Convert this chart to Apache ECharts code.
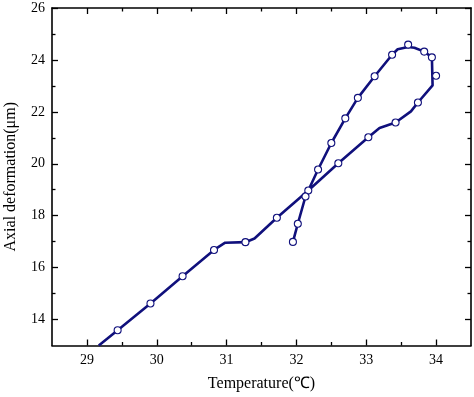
<!DOCTYPE html>
<html>
<head>
<meta charset="utf-8">
<script src="https://cdn.jsdelivr.net/npm/echarts@6/dist/echarts.min.js"></script>
<style>
  html, body { margin: 0; padding: 0; background: #fff; }
  #chart { width: 474px; height: 397px; }
</style>
</head>
<body>
<div id="chart"></div>
<script>
  // path of the curve (heating up the lower branch, back down the upper one)
  var pathT = [29.17, 29.44, 29.91, 30.37, 30.82, 30.98, 31.27, 31.40, 31.72, 32.17, 32.60, 33.03, 33.19, 33.42, 33.64, 33.74, 33.95, 33.94, 33.83, 33.69, 33.60, 33.45, 33.37, 33.12, 32.88, 32.70, 32.50, 32.31, 32.13, 32.02, 31.95];
  var pathD = [13.00, 13.59, 14.62, 15.67, 16.68, 16.96, 16.98, 17.12, 17.92, 18.97, 20.02, 21.02, 21.38, 21.59, 22.02, 22.36, 23.02, 24.10, 24.32, 24.47, 24.50, 24.41, 24.20, 23.37, 22.54, 21.75, 20.80, 19.78, 18.74, 17.69, 16.99];

  // measured points (open circles)
  var markT = [29.44, 29.91, 30.37, 30.82, 31.27, 31.72, 32.17, 32.60, 33.03, 33.42, 33.74, 34.00, 33.94, 33.83, 33.60, 33.37, 33.12, 32.88, 32.70, 32.50, 32.31, 32.13, 32.02, 31.95];
  var markD = [13.59, 14.62, 15.67, 16.68, 16.98, 17.92, 18.97, 20.02, 21.02, 21.59, 22.36, 23.39, 24.10, 24.32, 24.59, 24.20, 23.37, 22.54, 21.75, 20.80, 19.78, 18.74, 17.69, 16.99];

  var xMajor = [29, 30, 31, 32, 33, 34];
  var xMinor = [29.5, 30.5, 31.5, 32.5, 33.5];
  var yMajor = [14, 16, 18, 20, 22, 24, 26];
  var yMinor = [15, 17, 19, 21, 23, 25];

  var font = 'Liberation Serif';
  var navy = '#10107c';

  function zip(a, b) {
    return a.map(function (v, i) { return [v, b[i]]; });
  }

  function xAx(pos, ticks, len, labels, line) {
    return {
      type: 'value', position: pos, min: 28.5, max: 34.5,
      splitLine: { show: false },
      axisLine: { show: line, onZero: false, lineStyle: { color: '#000', width: 1.6 } },
      axisTick: { show: true, inside: true, length: len, customValues: ticks, lineStyle: { color: '#000', width: 1.3 } },
      axisLabel: labels ? { show: true, customValues: xMajor, margin: 8, color: '#000', fontFamily: font, fontSize: 14 } : { show: false }
    };
  }
  function yAx(pos, ticks, len, labels, line) {
    return {
      type: 'value', position: pos, min: 13, max: 26,
      splitLine: { show: false },
      axisLine: { show: line, onZero: false, lineStyle: { color: '#000', width: 1.6 } },
      axisTick: { show: true, inside: true, length: len, customValues: ticks, lineStyle: { color: '#000', width: 1.3 } },
      axisLabel: labels ? { show: true, customValues: yMajor, margin: 7, color: '#000', fontFamily: font, fontSize: 14 } : { show: false }
    };
  }

  var xs = [
    xAx('bottom', xMajor, 6, true, true),
    xAx('top', xMajor, 6, false, true),
    xAx('bottom', xMinor, 3.5, false, false),
    xAx('top', xMinor, 3.5, false, false)
  ];
  xs[0].name = 'Temperature(\u2103)';
  xs[0].nameLocation = 'middle';
  xs[0].nameGap = 30;
  xs[0].nameTextStyle = { color: '#000', fontFamily: font, fontSize: 16 };

  var ys = [
    yAx('left', yMajor, 6, true, true),
    yAx('right', yMajor, 6, false, true),
    yAx('left', yMinor, 3.5, false, false),
    yAx('right', yMinor, 3.5, false, false)
  ];
  ys[0].name = 'Axial deformation(\u03bcm)';
  ys[0].nameLocation = 'middle';
  ys[0].nameGap = 33;
  ys[0].nameTextStyle = { color: '#000', fontFamily: font, fontSize: 16 };

  var chart = echarts.init(document.getElementById('chart'));
  chart.setOption({
    animation: false,
    backgroundColor: '#fff',
    grid: { left: 52, right: 3, top: 8, bottom: 51.5, containLabel: false, outerBoundsMode: 'none' },
    xAxis: xs,
    yAxis: ys,
    series: [
      {
        type: 'line',
        data: zip(pathT, pathD),
        showSymbol: false,
        symbol: 'none',
        lineStyle: { color: navy, width: 2.6 },
        clip: true,
        z: 2
      },
      {
        type: 'scatter',
        data: zip(markT, markD),
        symbol: 'circle',
        symbolSize: 7,
        itemStyle: { color: '#fff', borderColor: navy, borderWidth: 1.1, opacity: 1 },
        z: 3
      }
    ]
  });
</script>
</body>
</html>
